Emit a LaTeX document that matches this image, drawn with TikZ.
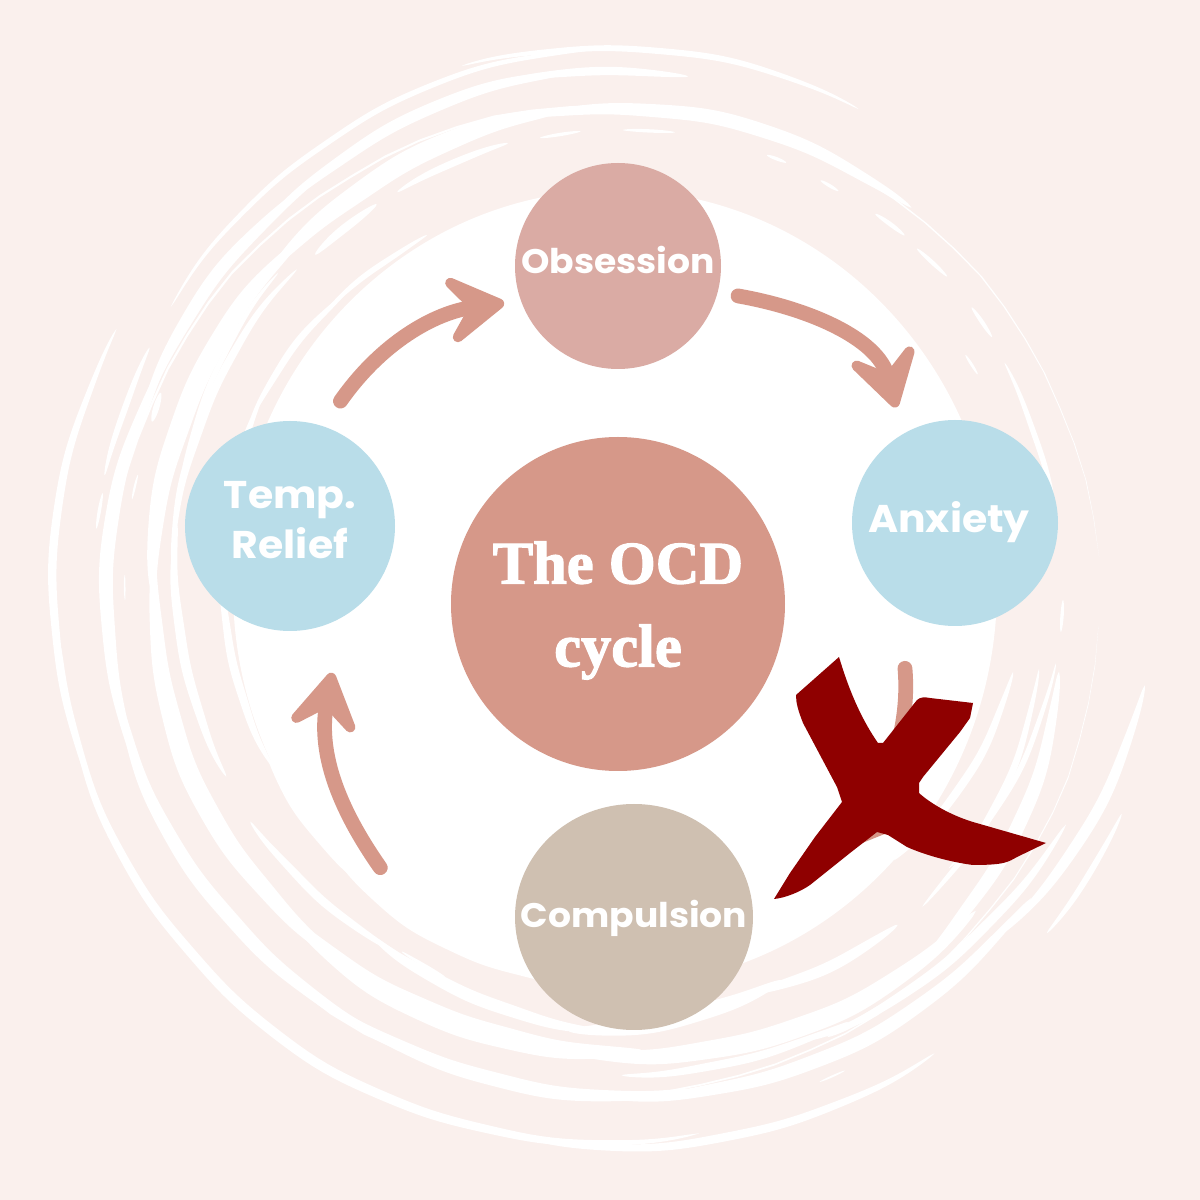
\documentclass[tikz,border=0pt]{standalone}
\usepackage{fontspec}
\usepackage{xcolor}
\usetikzlibrary{positioning,arrows.meta,shapes.geometric}
\newfontfamily\stagefont[FakeStretch=1.06]{Poppins}
\newfontfamily\titlefont[FakeBold=2]{Liberation Serif}
\definecolor{paper}{HTML}{FAF0ED}
\definecolor{rosehub}{HTML}{D69889}
\definecolor{rosestage}{HTML}{DAABA4}
\definecolor{bluestage}{HTML}{B9DDE9}
\definecolor{sandstage}{HTML}{CFC0B1}
\definecolor{crossred}{HTML}{8F0000}

% one tapered brush stroke round the centre of the picture
\newcommand{\swirlr}[3]{(#1+(#2-#1)*\t+0.009*sin(11*(#3))+0.004*sin(29*(#3)))}
\newcommand{\swirl}[5]{%
  \fill[white] plot[domain=0:1,samples=80,variable=\t]
    ({6.05+(\swirlr{#1}{#2}{#3+(#4-#3)*\t}+1.4*#5*sqrt(abs(sin(180*\t))))*cos(#3+(#4-#3)*\t)},
     {6+(\swirlr{#1}{#2}{#3+(#4-#3)*\t}+1.4*#5*sqrt(abs(sin(180*\t))))*sin(#3+(#4-#3)*\t)})
    -- plot[domain=1:0,samples=80,variable=\t]
    ({6.05+(\swirlr{#1}{#2}{#3+(#4-#3)*\t}-1.4*#5*sqrt(abs(sin(180*\t))))*cos(#3+(#4-#3)*\t)},
     {6+(\swirlr{#1}{#2}{#3+(#4-#3)*\t}-1.4*#5*sqrt(abs(sin(180*\t))))*sin(#3+(#4-#3)*\t)})
    -- cycle;}

\begin{document}
\begin{tikzpicture}[
  stage/.style={circle, minimum size=2.06cm, inner sep=0pt, text=white, align=center,
                font=\stagefont\bfseries\fontsize{9.7}{14.2}\selectfont},
  stagebig/.style={stage, font=\stagefont\bfseries\fontsize{11}{14.2}\selectfont},
  hub/.style={circle, minimum size=3.34cm, inner sep=0pt, fill=rosehub, text=white, align=center,
              font=\titlefont\bfseries\fontsize{17.2}{23.6}\selectfont},
  flow/.style={-{Stealth[round, length=7.5mm, width=9mm, inset=3.4mm, line width=3pt]},
               rosehub, line width=4.2pt, line cap=round}
]
\useasboundingbox (0,0) rectangle (12,12);
\fill[paper] (0,0) rectangle (12,12);

% Swirl rings
\foreach \ra/\rb/\aa/\ab/\w in {
  5.53/5.52/62.7/105/.022, 5.53/5.24/88/146/.02,
  5.59/5.47/151/200/.03, 5.47/5.42/185/280/.035, 5.44/5.60/262/306/.03,
  5.30/5.29/81/100/.03, 5.31/5.08/92/132/.04, 5.10/5.00/125/158/.045, 5.01/4.97/150/200/.05,
  4.97/4.89/190/245/.05, 4.89/4.97/235/280/.05, 4.97/5.20/270/325/.05, 5.20/5.47/320/351/.04,
  4.98/4.90/52/100/.05, 4.92/4.70/95/135/.07, 4.72/4.51/130/180/.07, 4.51/4.47/175/235/.07,
  4.47/4.52/225/275/.08, 4.52/4.85/265/320/.07, 4.82/4.60/310/351/.05,
  4.75/4.86/272/300/.03, 4.86/5.12/295/334/.035,
  4.18/4.08/212/240/.03, 4.08/4.31/235/270/.045, 4.31/4.20/265/295/.06, 4.20/4.37/290/312/.04,
  4.52/4.34/133/175/.03, 4.34/4.17/170/205/.035, 4.62/4.42/135/163/.02,
  5.21/5.15/151/166/.022,
  4.06/4.02/116/134/.02, 4.02/3.98/130/153/.025, 3.98/3.84/150/177/.03, 3.84/3.71/175/207/.03,
  3.71/3.74/205/228/.03, 3.74/3.85/225/265/.03,
  4.42/4.40/316/351/.025, 4.56/4.37/352/322/.02, 4.15/3.90/350/318/.03,
  5.58/5.54/337.5/323/.022, 4.58/4.58/360/356/.012, 4.95/4.95/5/357/.008,
  4.71/4.73/87.8/81.5/.012, 4.73/4.73/70/67.5/.012, 4.72/4.72/62.8/60.3/.012,
  4.72/4.72/55/50.6/.016, 4.70/4.70/48.4/43.4/.015, 4.68/4.68/38.6/34.2/.015, 4.36/4.36/34.2/31.2/.01,
  4.65/4.56/30.7/8/.02, 4.67/4.70/98/93/.012, 4.58/4.66/117/102/.025, 4.51/4.58/130/120/.03,
  4.91/4.88/155/158.5/.022, 4.83/4.83/168/165/.008, 5.13/5.13/172/168/.012, 4.80/4.80/180/177/.006,
  4.05/4.10/240/247/.012, 4.62/4.62/294/291/.01, 4.75/4.75/300/297/.012,
  4.90/4.90/305/297/.02, 5.28/5.28/297/294/.007}
  {\swirl{\ra}{\rb}{\aa}{\ab}{\w}}

% White disk
\fill[white] (6.15,6.12) ellipse (3.82 and 3.98);

% Stages
\node[hub] (ocd) at (6.18,5.96) {\rule{0pt}{.91em}The OCD\\cycle};
\node[stage, fill=rosestage, text height=.26cm, text depth=.10cm] (obsession) at (6.18,9.34) {Obsession};
\node[stagebig, fill=bluestage, text height=.26cm, text depth=.06cm] (anxiety) at (9.55,6.77) {Anxiety\hspace{.12cm}};
\node[stagebig, fill=bluestage, minimum size=2.10cm] (relief) at (2.90,6.74) {Temp.\\Relief\rule[-.3em]{0pt}{.3em}};
\node[stage, ellipse, fill=sandstage, minimum width=2.38cm, minimum height=2.26cm, inner xsep=-.3cm,
      text height=.26cm, text depth=.04cm] (compulsion) at (6.34,2.83) {Compulsion};

% Arrows
\draw[flow] ([shift={(68:0.29)}]relief.68) to[out=55,in=188,looseness=0.95] ([shift={(198:0.16)}]obsession.198);
\draw[flow] ([shift={(-14:0.20)}]obsession.-14) to[out=-10,in=105,looseness=0.95] ([shift={(117:0.26)}]anxiety.117);
\draw[flow] ([shift={(-109:0.50)}]anxiety.-109) to[out=-85,in=53,looseness=0.9] ([shift={(18.5:1.00)}]compulsion.18.5);
\draw[flow] ([shift={(169:1.39)}]compulsion.169) to[out=125,in=-100,looseness=1] ([shift={(-74:0.47)}]relief.-74);

% Cross
\fill[crossred] (8.39,5.43) .. controls (8.44,5.27) and (8.55,4.90) .. (8.78,4.57) -- (8.83,4.57) -- (9.17,5.00)
  .. controls (9.20,5.03) and (9.25,5.03) .. (9.30,5.02) -- (9.73,4.97) -- (9.70,4.82) -- (9.60,4.68) -- (9.23,4.23)
  -- (9.19,4.17) -- (9.19,4.07) .. controls (9.30,3.97) and (9.50,3.85) .. (9.73,3.78) -- (10.46,3.57)
  -- (10.17,3.43) .. controls (10.08,3.38) and (10.05,3.35) .. (9.73,3.35)
  .. controls (9.50,3.38) and (9.25,3.45) .. (9.07,3.53) -- (8.88,3.65) -- (8.77,3.68) -- (8.50,3.47) -- (8.10,3.15)
  .. controls (8.00,3.08) and (7.85,3.02) .. (7.74,3.01) -- (7.90,3.27) -- (8.15,3.63) -- (8.42,3.98) -- (8.37,4.13)
  -- (8.03,4.77) .. controls (7.98,4.90) and (7.96,4.97) .. (7.96,5.05) -- cycle;
\end{tikzpicture}
\end{document}
